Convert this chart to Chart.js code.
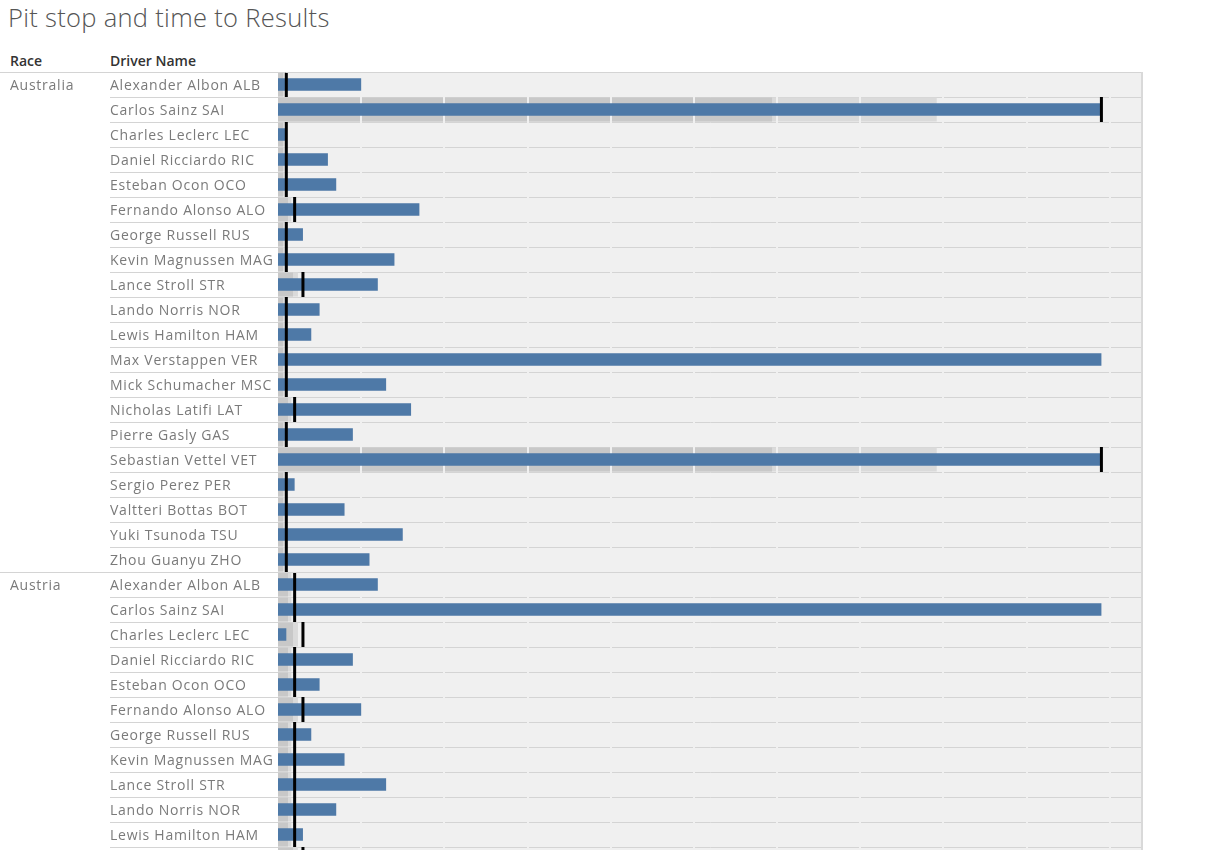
<!DOCTYPE html>
<html>
<head>
<meta charset="utf-8">
<script src="https://cdn.jsdelivr.net/npm/chart.js@4.4.1/dist/chart.umd.min.js"></script>
<style>
    html, body { margin: 0; padding: 0; background: #fff; overflow: hidden; }
    body { width: 1229px; height: 850px; position: relative; font-family: "Open Sans", sans-serif; }
    #title { position: absolute; left: 8px; top: 0px; font-size: 25.5px; font-weight: 300; color: #555; white-space: nowrap; letter-spacing: 0.3px; }
    .hdr { position: absolute; top: 51px; font-size: 14px; font-weight: 600; color: #333; white-space: nowrap; }
    #wrap { position: absolute; left: 0; top: 71px; width: 1229px; height: 801px; }
</style>
</head>
<body>
<div id="title">Pit stop and time to Results</div>
<div class="hdr" style="left:10px">Race</div>
<div class="hdr" style="left:110px">Driver Name</div>
<div id="wrap"><canvas id="pitChart"></canvas></div>

<script>
    "use strict";

    // races shown in the first column
    const raceNames = ['Australia', 'Austria'];

    // Australia: driver, finishing result (99 = DNF), pit stops
    const australiaDrivers = [
        'Alexander Albon ALB', 'Carlos Sainz SAI', 'Charles Leclerc LEC', 'Daniel Ricciardo RIC',
        'Esteban Ocon OCO', 'Fernando Alonso ALO', 'George Russell RUS', 'Kevin Magnussen MAG',
        'Lance Stroll STR', 'Lando Norris NOR', 'Lewis Hamilton HAM', 'Max Verstappen VER',
        'Mick Schumacher MSC', 'Nicholas Latifi LAT', 'Pierre Gasly GAS', 'Sebastian Vettel VET',
        'Sergio Perez PER', 'Valtteri Bottas BOT', 'Yuki Tsunoda TSU', 'Zhou Guanyu ZHO'
    ];
    const australiaResults = [10, 99, 1, 6, 7, 17, 3, 14, 12, 5, 4, 99, 13, 16, 9, 99, 2, 8, 15, 11];
    const australiaStops   = [1, 99, 1, 1, 1, 2, 1, 1, 3, 1, 1, 1, 1, 2, 1, 99, 1, 1, 1, 1];

    // Austria (page is cut after the 12th row)
    const austriaDrivers = [
        'Alexander Albon ALB', 'Carlos Sainz SAI', 'Charles Leclerc LEC', 'Daniel Ricciardo RIC',
        'Esteban Ocon OCO', 'Fernando Alonso ALO', 'George Russell RUS', 'Kevin Magnussen MAG',
        'Lance Stroll STR', 'Lando Norris NOR', 'Lewis Hamilton HAM', 'Max Verstappen VER'
    ];
    const austriaResults = [12, 99, 1, 9, 5, 10, 4, 8, 13, 7, 3, 2];
    const austriaStops   = [2, 2, 3, 2, 2, 3, 2, 2, 2, 2, 2, 3];

    // bullet graph bands, percent of the reference line
    const bandPercents = [60, 80];

    const driverLabels = australiaDrivers.concat(austriaDrivers);
    const raceLabels = australiaDrivers.map((d, i) => i === 0 ? raceNames[0] : '')
        .concat(austriaDrivers.map((d, i) => i === 0 ? raceNames[1] : ''));
    const results = australiaResults.concat(austriaResults);
    const stops = australiaStops.concat(austriaStops);
    const raceBreaks = [australiaDrivers.length];

    const labelFont = { family: 'Open Sans', size: 14 };
    const lineColor = '#d4d4d4';

    const tableFrame = {
        id: 'tableFrame',
        beforeDraw(chart) {
            const { ctx, chartArea: a } = chart;
            ctx.fillStyle = '#f0f0f0';
            ctx.fillRect(a.left, a.top, a.right - a.left, a.bottom - a.top);
            ctx.letterSpacing = '0.75px';   // Tableau labels are spaced wide
        },
        beforeDatasetDraw(chart, args) {
            // light vertical grid over the bands, under the bars
            if (args.index !== 1) return;
            const { ctx, chartArea: a, scales } = chart;
            ctx.save();
            ctx.strokeStyle = '#f0f0f0';
            ctx.lineWidth = 2;
            scales.x.ticks.forEach(t => {
                if (t.value <= 0 || t.value >= scales.x.max) return;
                const x = Math.round(scales.x.getPixelForValue(t.value));
                ctx.beginPath();
                ctx.moveTo(x, a.top);
                ctx.lineTo(x, a.bottom);
                ctx.stroke();
            });
            ctx.restore();
        },
        afterDraw(chart) {
            const { ctx, chartArea: a } = chart;
            ctx.save();
            ctx.strokeStyle = lineColor;
            ctx.lineWidth = 1;
            const rowH = (a.bottom - a.top) / driverLabels.length;
            [0].concat(raceBreaks).forEach(r => {
                const y = Math.round(a.top + r * rowH) + 0.5;
                ctx.beginPath();
                ctx.moveTo(0, y);
                ctx.lineTo(a.right, y);
                ctx.stroke();
            });
            ctx.lineWidth = 2;
            ctx.strokeStyle = '#d9d9d9';
            ctx.beginPath();
            ctx.moveTo(a.right - 1, a.top);
            ctx.lineTo(a.right - 1, a.bottom);
            ctx.stroke();
            ctx.restore();
            ctx.letterSpacing = '0px';
        }
    };

    function fixWidth(w) {
        return s => {
            s.width = w;
            s.paddingTop = 0;
            s.paddingBottom = 0;
        };
    }

    const ctx = document.getElementById('pitChart').getContext('2d');
    const pitChart = new Chart(ctx, {
        type: 'bar',
        data: {
            labels: driverLabels,
            datasets: [{
                type: 'line',
                label: 'Pit stops',
                data: stops,
                indexAxis: 'y',
                xAxisID: 'x',
                yAxisID: 'y',
                showLine: false,
                pointStyle: 'line',
                pointRotation: 90,
                pointRadius: 12.5,
                pointHoverRadius: 12.5,
                pointBorderWidth: 3,
                borderColor: '#000',
                backgroundColor: '#000',
                order: 0
            }, {
                label: 'Result',
                data: results,
                backgroundColor: '#4e79a7',
                barPercentage: 0.5,
                categoryPercentage: 1,
                grouped: false,
                order: 1
            }, {
                label: 'Band ' + bandPercents[0] + '%',
                data: stops.map(v => v * bandPercents[0] / 100),
                backgroundColor: '#c8c8c8',
                barPercentage: 0.96,
                categoryPercentage: 1,
                grouped: false,
                order: 2
            }, {
                label: 'Band ' + bandPercents[1] + '%',
                data: stops.map(v => v * bandPercents[1] / 100),
                backgroundColor: '#dadada',
                barPercentage: 0.96,
                categoryPercentage: 1,
                grouped: false,
                order: 3
            }]
        },
        options: {
            indexAxis: 'y',
            responsive: true,
            maintainAspectRatio: false,
            animation: false,
            layout: { autoPadding: false, padding: { left: 10, right: 86, top: 1, bottom: 0 } },
            plugins: {
                legend: { display: false },
                tooltip: { enabled: false }
            },
            scales: {
                x: {
                    type: 'linear',
                    display: false,
                    min: 0,
                    max: 104,
                    ticks: { stepSize: 10 }
                },
                race: {
                    type: 'category',
                    position: 'left',
                    axis: 'y',
                    weight: 1,
                    labels: raceLabels,
                    offset: true,
                    grid: { display: false },
                    border: { display: false },
                    ticks: { crossAlign: 'far', color: '#7a7a7a', font: labelFont, padding: 0, labelOffset: 2, autoSkip: false },
                    afterFit: fixWidth(100)
                },
                y: {
                    type: 'category',
                    position: 'left',
                    weight: 0,
                    offset: true,
                    grid: { offset: true, color: lineColor, lineWidth: 1, tickLength: 168, drawTicks: true },
                    border: { display: false },
                    ticks: { crossAlign: 'far', color: '#7a7a7a', font: labelFont, padding: 0, labelOffset: 2, autoSkip: false },
                    afterFit: fixWidth(168)
                }
            }
        },
        plugins: [tableFrame]
    });
</script>
</body>
</html>
